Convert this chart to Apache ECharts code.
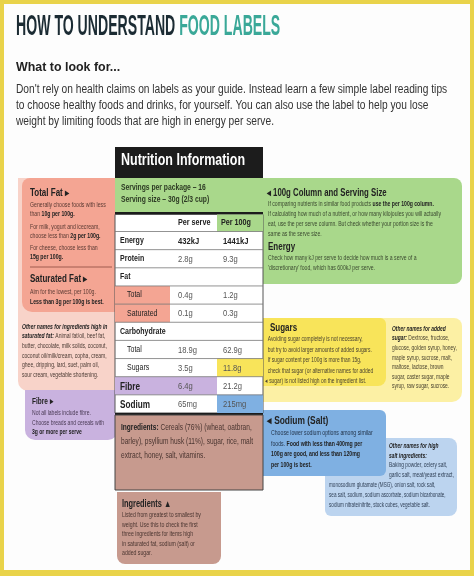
<!DOCTYPE html>
<html><head><meta charset="utf-8">
<script src="https://cdn.jsdelivr.net/npm/echarts@6/dist/echarts.min.js"></script>
<style>html,body{margin:0;padding:0;background:#fff}#c{width:474px;height:576px}</style>
</head><body><div id="c"></div>
<script>
const rowLabels = ['Energy','Protein','Fat','Total','Saturated','Carbohydrate','Total','Sugars','Fibre','Sodium'];
const perServe  = ['432kJ','2.8g','','0.4g','0.1g','','18.9g','3.5g','6.4g','65mg'];
const per100g   = ['1441kJ','9.3g','','1.2g','0.3g','','62.9g','11.8g','21.2g','215mg'];
const headers   = ['Per serve','Per 100g'];
const serving   = ['Servings per package – 16','Serving size – 30g (2/3 cup)'];

const F = "'Liberation Sans',sans-serif";
const SX = 0.8;
const chart = echarts.init(document.getElementById('c'));
const g = [];
const rect = (x,y,w,h,fill,r,extra) => g.push(Object.assign({type:'rect',shape:{x,y,width:w,height:h,r:r||0},style:{fill}},extra||{}));
const txt = (x,y,text,size,opt,sx) => g.push({type:'text',x,y,scaleX:sx||SX,style:Object.assign({text,font:`${size}px ${F}`,fill:'#333',textVerticalAlign:'top'},opt||{})});
const rich = (x,y,text,size,lh,col,sx,hs) => g.push({type:'text',x,y,scaleX:sx||SX,style:{text,font:`${size}px ${F}`,fill:col||'#444',lineHeight:lh,textVerticalAlign:'top',
  rich:{b:{font:`bold ${size}px ${F}`,fill:'#222',lineHeight:lh},i:{font:`italic bold ${size}px ${F}`,fill:'#222',lineHeight:lh},h:{font:`bold ${hs||size+3}px ${F}`,fill:'#222',lineHeight:lh+4}}}});

// frame
rect(0,0,474,576,'#e9d34a');
rect(4,4,466,566,'#fdfdfd');

// title
g.push({type:'text',x:16,y:12,scaleX:0.47,style:{text:'{a|HOW TO UNDERSTAND }{b|FOOD LABELS}',textVerticalAlign:'top',
  rich:{a:{font:`bold 30px ${F}`,fill:'#1b2b33'},b:{font:`bold 30px ${F}`,fill:'#3aa898'}}}});
txt(16,60,'What to look for...',13.5,{font:`bold 13.5px ${F}`,fill:'#222'},0.92);
g.push({type:'text',x:16,y:82,scaleX:0.85,style:{text:"Don't rely on health claims on labels as your guide. Instead learn a few simple label reading tips\nto choose healthy foods and drinks, for yourself. You can also use the label to help you lose\nweight by limiting foods that are high in energy per serve.",
  font:`12px ${F}`,fill:'#333',lineHeight:16,textVerticalAlign:'top'}});

// left boxes
rect(18,178,100,213,'#f8d3c9',[0,0,0,10]);
rect(22,178,96,134,'#f4a593',[8,0,0,10]);
g.push({type:'line',shape:{x1:30,y1:267,x2:112,y2:267},style:{stroke:'#8a4a3c',lineWidth:0.8}});
const LC='#5a3a33';
rich(30,186,'{h|Total Fat ▸}',7,10,LC,0.8,10);
rich(30,200,'Generally choose foods with less\nthan {b|10g per 100g.}',7,9.5,LC,0.74);
rich(30,222,'For milk, yogurt and icecream,\nchoose less than {b|2g per 100g.}',7,9.5,LC,0.74);
rich(30,243,'For cheese, choose less than\n{b|15g per 100g.}',7,9.5,LC,0.74);
rich(30,272,'{h|Saturated Fat ▸}',7,10,LC,0.8,10);
rich(30,287,'Aim for the lowest, per 100g.\n{b|Less than 3g per 100g is best.}',7,10,LC,0.74);
rich(22,322,'{i|Other names for ingredients high in}\n{i|saturated fat:} Animal fat/oil, beef fat,\nbutter, chocolate, milk solids, coconut,\ncoconut oil/milk/cream, copha, cream,\nghee, dripping, lard, suet, palm oil,\nsour cream, vegetable shortening.',7,9.6,'#4a3a33',0.72);
rect(25,390,93,50,'#c9b2df',[0,0,10,10]);
rich(32,395,'{h|Fibre ▸}\nNot all labels include fibre.\nChoose breads and cereals with\n{b|3g or more per serve}',7,9.5,'#4a3a55',0.72,9);

// right boxes
rect(262,178,200,106,'#a9d88b',[0,8,8,0]);
rich(267,186,'{h|◂ 100g Column and Serving Size}',7,10,'#3b4a30',0.78,10);
rich(268,199,'If comparing nutrients in similar food products {b|use the per 100g column.}\nIf calculating how much of a nutrient, or how many kilojoules you will actually\neat, use the per serve column. But check whether your portion size is the\nsame as the serve size.',7,10,'#3b4a30',0.73);
rich(268,240,'{h|Energy}',7,10,'#3b4a30',0.8,10);
rich(268,253,'Check how many kJ per serve to decide how much is a serve of a\n\'discretionary\' food, which has 600kJ per serve.',7,10,'#3b4a30',0.73);
rect(262,318,200,84,'#fcf0a4',[0,8,10,0]);
rect(262,318,124,68,'#f8e45a',[0,6,8,0]);
rich(270,321,'{h|Sugars}',7,10,'#4a4330',0.8,10);
rich(265,334,'  Avoiding sugar completely is not necessary,\n  but try to avoid larger amounts of added sugars.\n  If sugar content per 100g is more than 15g,\n  check that sugar (or alternative names for added\n◂ sugar) is not listed high on the ingredient list.',7,10.5,'#4a4330',0.7);
rich(392,324,'{i|Other names for added}\n{i|sugar:} Dextrose, fructose,\nglucose, golden syrup, honey,\nmaple syrup, sucrose, malt,\nmaltose, lactose, brown\nsugar, caster sugar, maple\nsyrup, raw sugar, sucrose.',7,9.6,'#4a4330',0.7);
rect(325,438,132,78,'#bcd4ef',[0,8,8,6]);
rect(262,410,124,66,'#7fb0e2',[0,6,6,0]);
rich(267,414,'{h|◂ Sodium (Salt)}',7,10,'#23344a',0.8,10.5);
rich(271,428,'Choose lower sodium options among similar\nfoods. {b|Food with less than 400mg per}\n{b|100g are good, and less than 120mg}\n{b|per 100g is best.}',7,10.5,'#23344a',0.74);
rich(389,441,'{i|Other names for high}\n{i|salt ingredients:}\nBaking powder, celery salt,\ngarlic salt, meat/yeast extract,',7,9.8,'#2f3f55',0.7);
rich(329,480,'monosodium glutamate (MSG), onion salt, rock salt,\nsea salt, sodium, sodium ascorbate, sodium bicarbonate,\nsodium nitrate/nitrite, stock cubes, vegetable salt.',7,10,'#2f3f55',0.66);

// nutrition table
const X0=115, X1=170, X2=217, X3=263;
rect(X0,147,X3-X0,31,'#1c1c1c');
txt(X0+6,153,'Nutrition Information',16,{font:`bold 16px ${F}`,fill:'#fff'},0.78);
rect(X0,178,X3-X0,34,'#a9d88b');
txt(X0+6,182,serving.join('\n'),9,{font:`bold 9px ${F}`,fill:'#2d3a24',lineHeight:12},0.75);
rect(X0,212,X3-X0,2.5,'#1c1c1c');
rect(X0,214.5,X3-X0,198.5,'#fff',0,{style:{fill:'#fff',stroke:'#555',lineWidth:1}});
rect(X2,214.5,X3-X2,17,'#a9d88b');
txt(X1+8,218,headers[0],9,{font:`bold 9px ${F}`,fill:'#222'},0.8);
txt(X2+4,218,headers[1],9,{font:`bold 9px ${F}`,fill:'#222'},0.8);
const rh=18.15, rowTop=231.5;
const fills={3:[[X0,X1,'#f4a593']],4:[[X0,X1,'#f4a593']],7:[[X2,X3,'#f8e45a']],8:[[X0,X2,'#c9b2df']],9:[[X2,X3,'#7fb0e2']]};
rowLabels.forEach((lab,i)=>{
  const y=rowTop+i*rh;
  (fills[i]||[]).forEach(f=>rect(f[0],y,f[1]-f[0],rh,f[2]));
  g.push({type:'line',shape:{x1:X0,y1:y,x2:X3,y2:y},style:{stroke:'#777',lineWidth:0.8}});
  const bold=[0,1,2,5,8,9].includes(i);
  const indent=[3,4,6,7].includes(i);
  const sz=(i===8||i===9)?10.5:9;
  txt(X0+(indent?12:5),y+4.5,lab,sz,{font:`${bold?'bold ':''}${sz}px ${F}`,fill:'#222'},0.78);
  txt(X1+8,y+4.5,perServe[i],9.5,{font:`${i===0?'bold ':''}9.5px ${F}`,fill:i===0?'#222':'#555'},0.8);
  txt(X2+6,y+4.5,per100g[i],9.5,{font:`${i===0?'bold ':''}9.5px ${F}`,fill:i===0?'#222':'#555'},0.8);
});
rect(X0,413,X3-X0,2.5,'#1c1c1c');
rect(X0,415,X3-X0,75,'#c79a8e',0,{style:{fill:'#c79a8e',stroke:'#444',lineWidth:1}});
rich(X0+6,421,'{b|Ingredients:} Cereals (76%) (wheat, oatbran,\nbarley), psyllium husk (11%), sugar, rice, malt\nextract, honey, salt, vitamins.',9,14,'#4a3530',0.73);
rect(X0+2,492,104,72,'#c79a8e',[0,0,8,8]);
rich(X0+7,497,'{h|Ingredients ▲}\nListed from greatest to smallest by\nweight. Use this to check the first\nthree ingredients for items high\nin saturated fat, sodium (salt) or\nadded sugar.',7,9.5,'#4a3530',0.74,10);

chart.setOption({animation:false,graphic:{elements:g}});
</script></body></html>
